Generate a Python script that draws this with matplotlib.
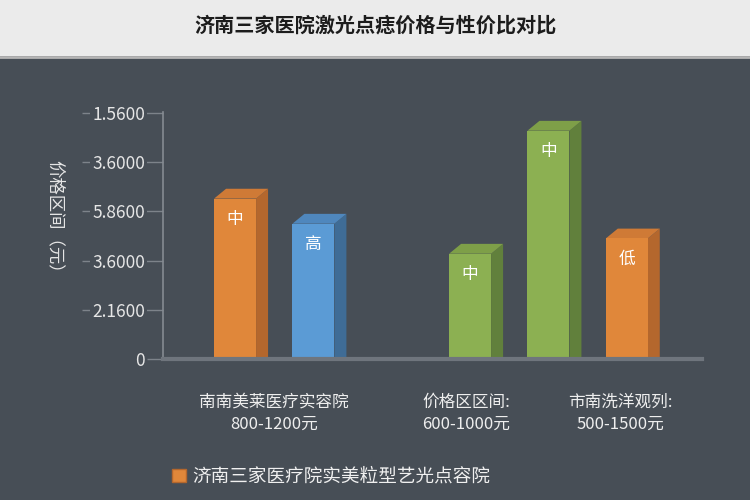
import matplotlib.pyplot as plt
from matplotlib.patches import Polygon, Rectangle, Patch
from matplotlib.lines import Line2D

plt.rcParams['font.family'] = ['Noto Sans CJK SC', 'DejaVu Sans']

title = '济南三家医院激光点痣价格与性价比对比'
ylabel = '价格区间（元）'
y_tick_labels = ['0', '2.1600', '3.6000', '5.8600', '3.6000', '1.5600']

# bars: slot position, height (in tick units), text in bar, colour group
bar_pos = [0, 1, 3, 4, 5]
bar_vals = [3.26, 2.75, 2.14, 4.64, 2.45]
bar_text = ['中', '高', '中', '中', '低']
bar_kind = ['orange', 'blue', 'green', 'green', 'orange']

cat_pos = [0.5, 2.95, 4.92]
cat_labels = ['南南美莱医疗实容院\n800-1200元',
              '价格区区间:\n600-1000元',
              '市南洗洋观列:\n500-1500元']
legend_label = '济南三家医疗院实美粒型艺光点容院'

bg = '#474e56'
colors = {
    'orange': ('#e0873a', '#cf7a36', '#b4672d'),
    'blue': ('#5b9bd5', '#4f87bd', '#3f6c96'),
    'green': ('#8cb052', '#7e9f48', '#61803c'),
}

fig = plt.figure(figsize=(7.5, 5), dpi=100, facecolor=bg)

# title band
fig.patches.append(Rectangle((0, 1 - 56 / 500), 1, 56 / 500, transform=fig.transFigure,
                             facecolor='#ebebeb', edgecolor='none', zorder=0))
fig.lines.append(Line2D([0, 1], [1 - 56.5 / 500] * 2, transform=fig.transFigure,
                        color='#b5b5b5', lw=2))
fig.text(0.5, 1 - 25 / 500, title, ha='center', va='center', fontsize=14.5,
         fontweight='bold', color='#1c1c1c')

ax = fig.add_axes([163 / 750, 1 - 359 / 500, (702 - 163) / 750, (359 - 112) / 500])
ax.set_facecolor(bg)
ax.set_xlim(-0.92, 5.96)
ax.set_ylim(0, 5.02)

width = 0.536
dx, dy = 0.153, 0.2
for p, v, t, k in zip(bar_pos, bar_vals, bar_text, bar_kind):
    front, top, side = colors[k]
    x0, x1 = p - width / 2, p + width / 2
    ax.add_patch(Polygon([(x1, 0), (x1, v), (x1 + dx, v + dy), (x1 + dx, 0)],
                         closed=True, facecolor=side, edgecolor='none', zorder=2))
    ax.add_patch(Polygon([(x0, v), (x1, v), (x1 + dx, v + dy), (x0 + dx, v + dy)],
                         closed=True, facecolor=top, edgecolor='none', zorder=2))
    ax.bar(p, v, width=width, color=front, zorder=3)
    ax.annotate(t, (p, v), xytext=(0, -15), textcoords='offset points',
                ha='center', va='center', fontsize=12, color='white', zorder=4)

for s in ['top', 'right']:
    ax.spines[s].set_visible(False)
ax.spines['left'].set_color('#858b92')
ax.spines['left'].set_linewidth(1.2)
ax.spines['bottom'].set_color('#6f757d')
ax.spines['bottom'].set_linewidth(3)
ax.spines['bottom'].set_zorder(5)

ax.set_yticks(range(len(y_tick_labels)))
ax.set_yticklabels(y_tick_labels)
ax.tick_params(axis='y', length=58, width=1, color='#7d838a', pad=-45,
               labelsize=12.5, labelcolor='#e6e6e6')
for lab in ax.get_yticklabels():
    lab.set_bbox(dict(facecolor=bg, edgecolor='none', pad=1.5))
ax.yaxis.get_major_ticks()[0].tick1line.set_markersize(11.5)

ax.set_xticks(cat_pos)
ax.set_xticklabels(cat_labels, linespacing=1.35)
ax.tick_params(axis='x', length=0, pad=25, labelsize=12, labelcolor='#eeeeee')

fig.text(55 / 750, 1 - 221 / 500, ylabel, rotation=270, ha='center', va='center',
         fontsize=12.5, color='#e6e6e6')

handle = Patch(facecolor=colors['orange'][0], edgecolor='#b4672d')
fig.legend(handles=[handle], labels=[legend_label], loc='center left',
           bbox_to_anchor=(172 / 750, 1 - 477 / 500), frameon=False,
           fontsize=13.4, labelcolor='#f0f0f0', handlelength=0.75, handleheight=0.75,
           handletextpad=0.35, borderpad=0, borderaxespad=0)

fig.savefig('out.png', dpi=100, facecolor=bg)
